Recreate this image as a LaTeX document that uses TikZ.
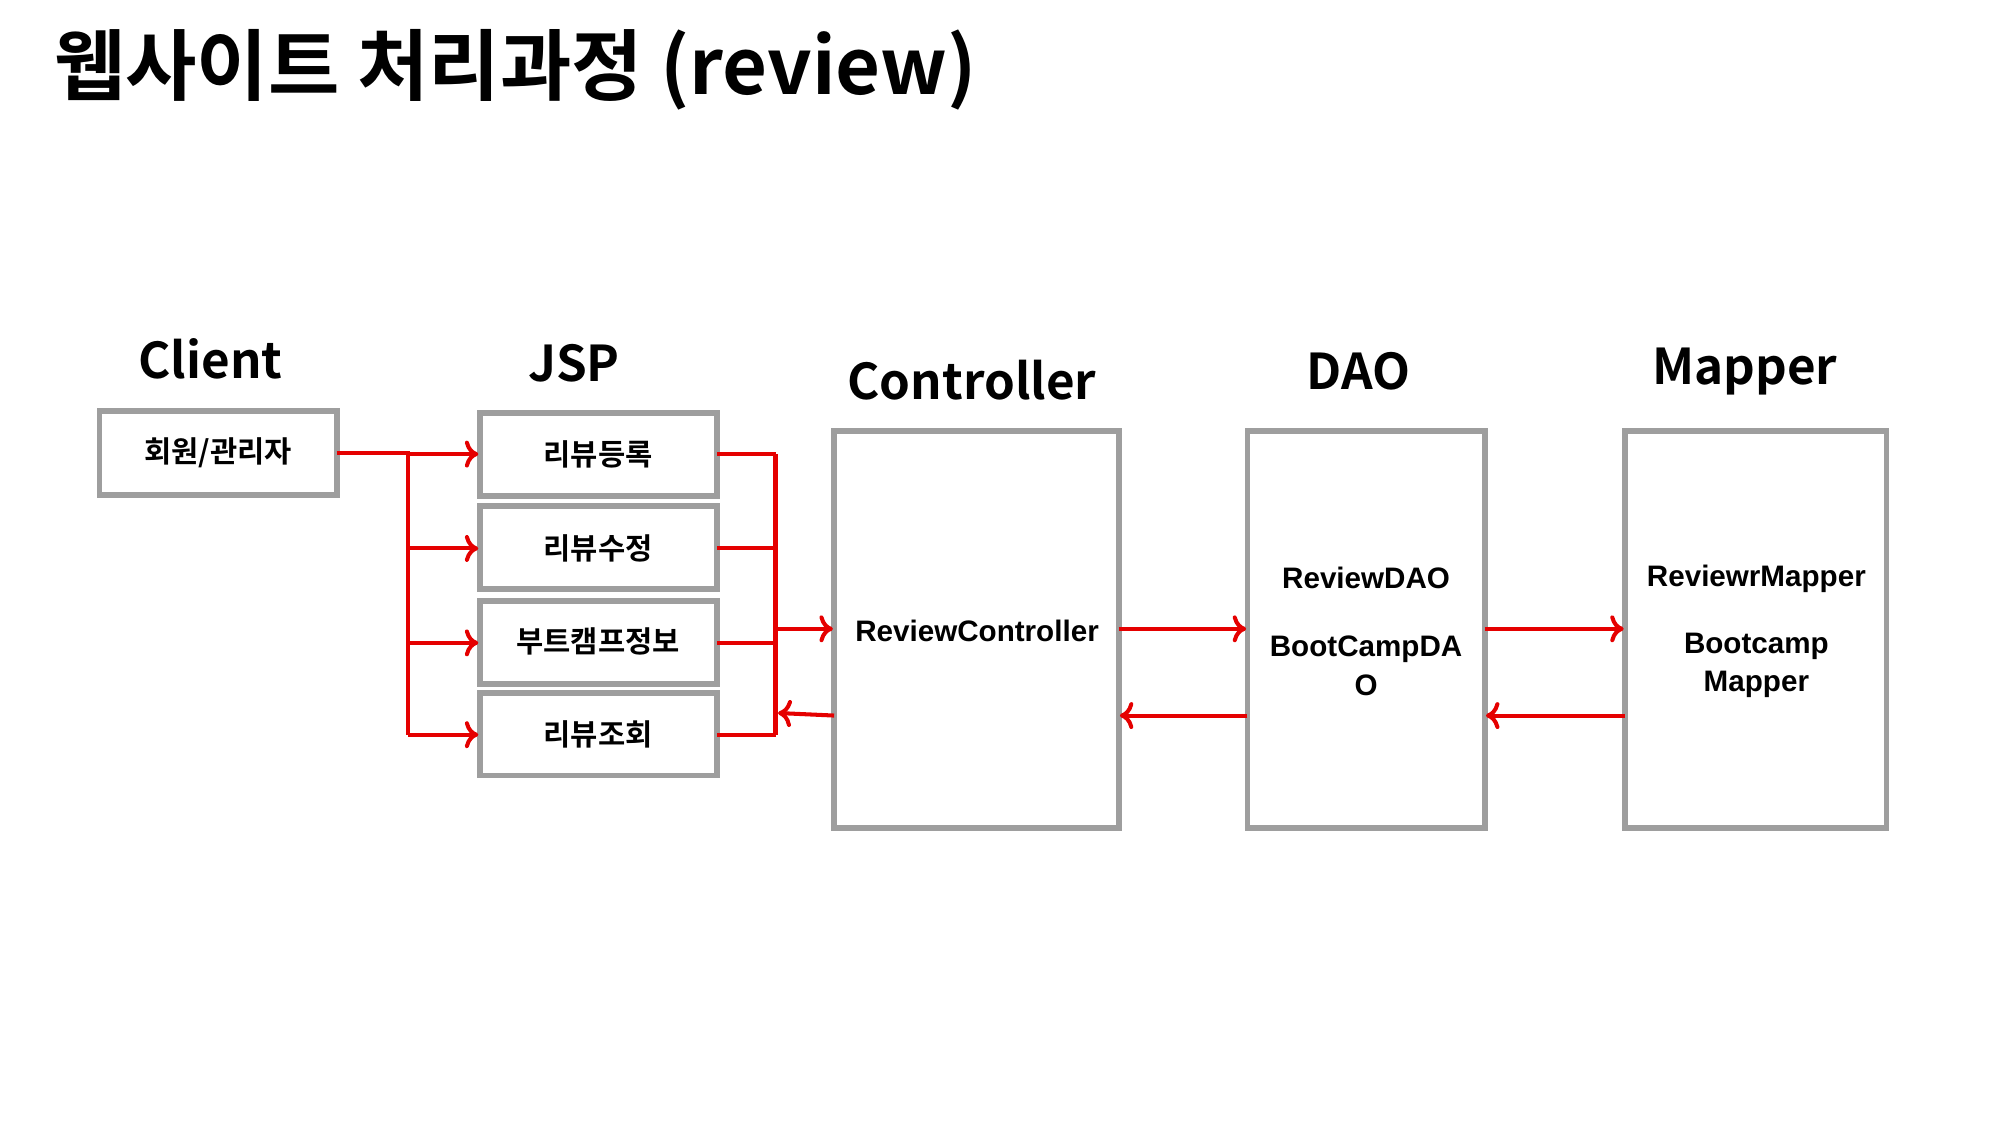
\documentclass[tikz,border=0pt]{standalone}
\usepackage{fontspec}
\setmainfont{Liberation Sans}
\newfontfamily\kr{Noto Sans CJK KR}
\newfontfamily\krb{Noto Sans CJK KR Bold}
\usetikzlibrary{arrows.meta}
\begin{document}
\begin{tikzpicture}[x=0.01cm,y=-0.01cm,
  box/.style={draw=black!38,line width=1.3pt},
  hdr/.style={font=\krb\fontsize{11}{13}\selectfont},
  lab/.style={font=\krb\fontsize{6.6}{8}\selectfont},
  elab/.style={font=\bfseries\fontsize{6.6}{8.5}\selectfont,align=center},
  ar/.style={draw=red!90!black,line width=0.9pt,-{To[length=3pt,width=6pt]}},
  ln/.style={draw=red!90!black,line width=0.9pt}]
\useasboundingbox (0,0) rectangle (1568,882);
\node[anchor=west,font=\krb\fontsize{17.3}{20}\selectfont] (title) at (30,55) {웹사이트 처리과정 (review)};
\node[hdr] (hc) at (165,281) {Client};
\node[hdr] (hj) at (450,285) {JSP};
\node[hdr] (hk) at (762,298) {Controller};
\node[hdr] (hd) at (1065,291) {DAO};
\node[hdr] (hm) at (1368,291) {Mapper};
\draw[box] (78,322) rectangle (264,388);
\node[lab] (clt) at (171,355) {회원/관리자};
\draw[box] (376,324) rectangle (562,389);
\draw[box] (376,397) rectangle (562,462);
\draw[box] (376,471) rectangle (562,536);
\draw[box] (376,543) rectangle (562,608);
\node[lab] (j1) at (469,356) {리뷰등록};
\node[lab] (j2) at (469,430) {리뷰수정};
\node[lab] (j3) at (469,503) {부트캠프정보};
\node[lab] (j4) at (469,576) {리뷰조회};
\draw[box] (654,338) rectangle (877,649);
\draw[box] (978,338) rectangle (1164,649);
\draw[box] (1274,338) rectangle (1479,649);
\node[elab] (ct) at (766,495) {ReviewController};
\node[elab] (dt1) at (1071,453) {ReviewDAO};
\node[elab] (dt2) at (1071,522) {BootCampDA\\O};
\node[elab] (mt1) at (1377,454) {ReviewrMapper};
\node[elab] (mt2) at (1377,522) {Bootcamp\\Mapper};
\coordinate (cR) at (264,355);
\coordinate (b1) at (320,355);
\coordinate (b4) at (320,576);
\draw[ln] (cR) -- (b1) -- (b4);
\foreach \y in {356,430,504,576}{\draw[ar] (320,\y) -- (375,\y);}
\foreach \y in {356,430,504,576}{\draw[ln] (562,\y) -- (608,\y);}
\coordinate (r1) at (608,356);
\coordinate (r4) at (608,576);
\draw[ln] (r1) -- (r4);
\draw[ar] (608,493) -- (653,493);
\draw[ar] (654,561) -- (610,559);
\draw[ar] (877,493) -- (977,493);
\draw[ar] (978,561) -- (878,561);
\draw[ar] (1164,493) -- (1273,493);
\draw[ar] (1274,561) -- (1165,561);
\end{tikzpicture}
\end{document}
